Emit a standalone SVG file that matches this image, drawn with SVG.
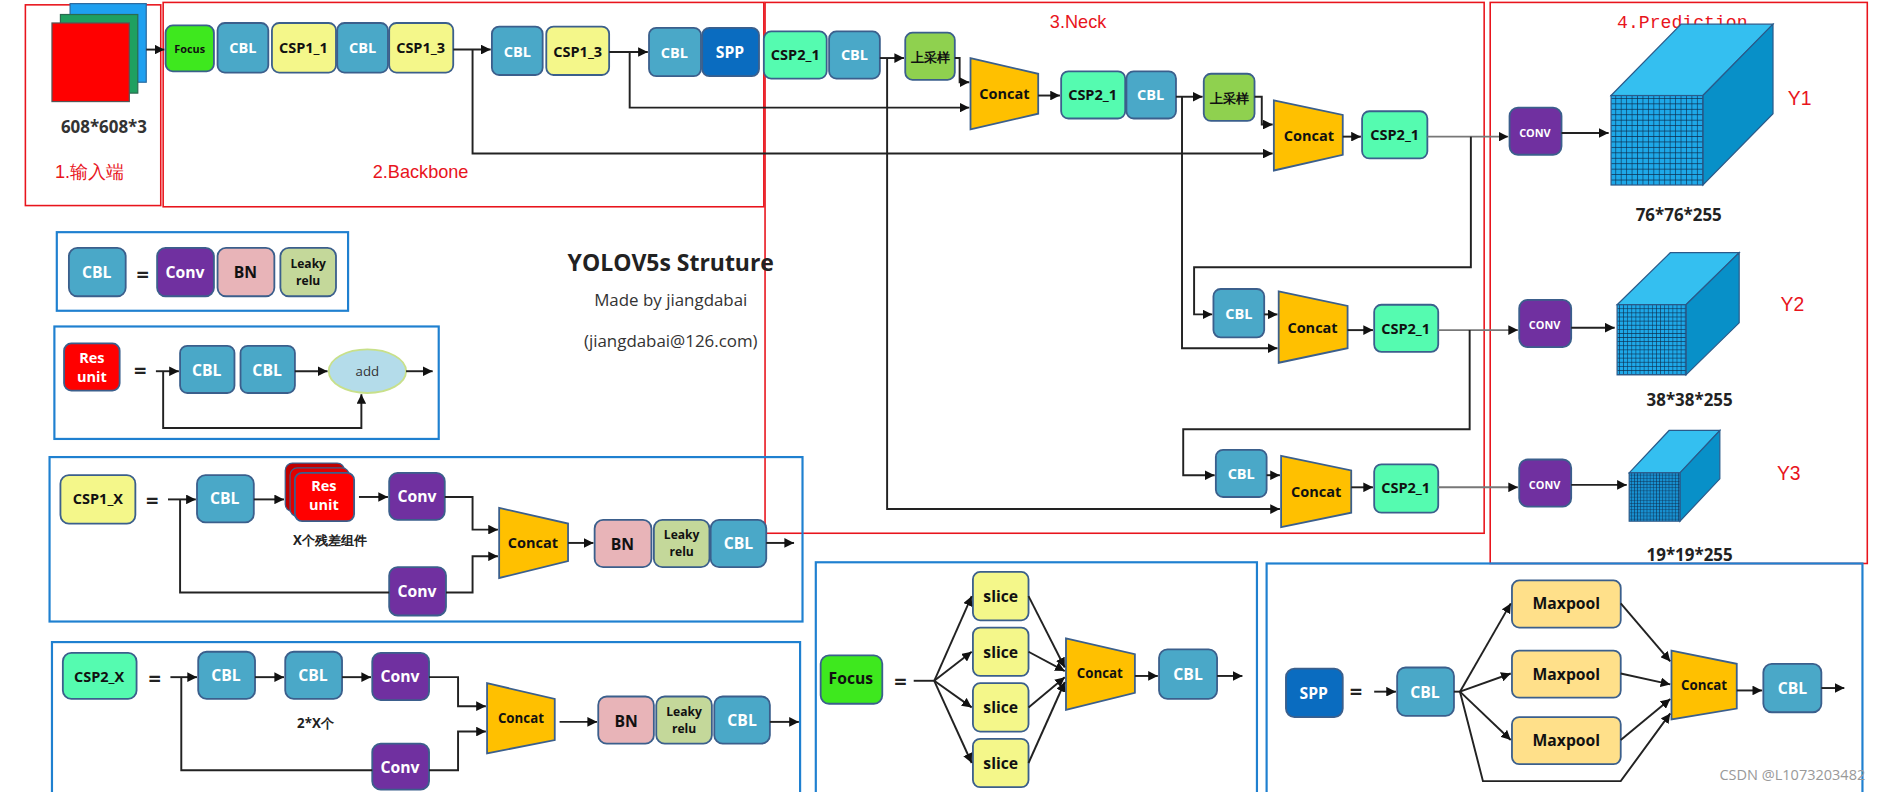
<svg xmlns="http://www.w3.org/2000/svg" width="1895" height="792" viewBox="0 0 1895 792">
<style>
.n{stroke:#3b5f8c;stroke-width:1.5}
.cbl{fill:#4aa8c8}.csp1{fill:#f4f78a}.csp2{fill:#55fbb0}.conv{fill:#7030a0}.bn{fill:#e8b4b8}.lr{fill:#c4d89a}.cc{fill:#ffc000}.up{fill:#8fd14f}.res{fill:#ff0000}.mp{fill:#ffe08a}.focus{fill:#3ee81e}.spp{fill:#0a6cc0}
text{font-family:"Open Sans","DejaVu Sans",sans-serif;font-weight:bold;text-anchor:middle}
.t{font-size:12px}.w{fill:#fff}.d{fill:#111}
.red{font-family:"Liberation Sans",sans-serif;font-weight:normal;fill:#e8141c;font-size:15px}
.rb{fill:none;stroke:#e8141c;stroke-width:1.3}
.bb{fill:none;stroke:#1f80d0;stroke-width:1.8}
.c path{fill:none;stroke:#222;stroke-width:1.6}
.c .g{stroke:#777}
.cube{stroke:#2a5a8a;stroke-width:1}
</style>
<defs>
<marker id="a" markerUnits="userSpaceOnUse" markerWidth="8" markerHeight="8" refX="8" refY="4" orient="auto"><path d="M0,0 L8,4 L0,8 z" fill="#111"/></marker>
<pattern id="p1" width="4.5" height="4.5" patternUnits="userSpaceOnUse"><rect width="4.5" height="4.5" fill="#1ea8e8"/><path d="M0,0H4.5M0,0V4.5" stroke="#0b2a4a" stroke-width="1"/></pattern>
<pattern id="p2" width="3.4" height="3.4" patternUnits="userSpaceOnUse"><rect width="3.4" height="3.4" fill="#1ea8e8"/><path d="M0,0H3.4M0,0V3.4" stroke="#0b2a4a" stroke-width="0.9"/></pattern>
<pattern id="p3" width="2.6" height="2.6" patternUnits="userSpaceOnUse"><rect width="2.6" height="2.6" fill="#1890d0"/><path d="M0,0H2.6M0,0V2.6" stroke="#0b2a4a" stroke-width="0.8"/></pattern>
</defs>
<rect width="1895" height="792" fill="#fff"/>
<g transform="scale(1.2086 1.2092)">
<g id="frames">
<rect class="rb" x="21" y="4" width="112" height="166"/>
<rect class="rb" x="135" y="2" width="497" height="169"/>
<rect class="rb" x="633" y="2" width="595" height="439"/>
<rect class="rb" x="1233" y="2" width="312" height="464"/>
<text class="red" x="74" y="147">1.输入端</text>
<text class="red" x="348" y="147">2.Backbone</text>
<text class="red" x="892" y="23">3.Neck</text>
<text class="red" x="1392" y="23" style="font-family:'Liberation Mono',monospace">4.Prediction</text>
<rect class="bb" x="47" y="192" width="241" height="65"/>
<rect class="bb" x="45" y="270" width="318" height="93"/>
<rect class="bb" x="41" y="378" width="623" height="136"/>
<rect class="bb" x="43" y="531" width="619" height="130"/>
<rect class="bb" x="675" y="465" width="365" height="196"/>
<rect class="bb" x="1048" y="466" width="493" height="195"/>
</g>
<g id="input">
<rect x="58" y="3" width="63" height="65" fill="#1ea0f0" stroke="#2a6aa0"/>
<rect x="50" y="12" width="64" height="65" fill="#1fa060" stroke="#2a6a50"/>
<rect x="43" y="19" width="64" height="65" fill="#ff0000" stroke="#555"/>
<text x="86" y="110" style="font-size:14px" fill="#333">608*608*3</text>
</g>
<g id="backbone">
<rect class="n focus" x="137" y="21" width="40" height="38" rx="6"/><text class="d" x="157" y="44" style="font-size:9px">Focus</text>
<rect class="n cbl" x="180" y="19" width="42" height="41" rx="6"/><text class="t w" x="201" y="44">CBL</text>
<rect class="n csp1" x="225" y="19" width="53" height="41" rx="6"/><text class="t d" x="251" y="44">CSP1_1</text>
<rect class="n cbl" x="279" y="19" width="42" height="41" rx="6"/><text class="t w" x="300" y="44">CBL</text>
<rect class="n csp1" x="322" y="19" width="53" height="41" rx="6"/><text class="t d" x="348" y="44">CSP1_3</text>
<rect class="n cbl" x="407" y="22" width="42" height="40" rx="6"/><text class="t w" x="428" y="47">CBL</text>
<rect class="n csp1" x="452" y="22" width="52" height="40" rx="6"/><text class="t d" x="478" y="47">CSP1_3</text>
<rect class="n cbl" x="537" y="23" width="43" height="40" rx="6"/><text class="t w" x="558" y="48">CBL</text>
<rect class="n spp" x="581" y="23" width="47" height="40" rx="6"/><text class="t w" x="604" y="48" style="font-size:13px">SPP</text>
</g>
<g id="neck">
<rect class="n csp2" x="632" y="26" width="52" height="39" rx="6"/><text class="t d" x="658" y="50">CSP2_1</text>
<rect class="n cbl" x="686" y="26" width="42" height="39" rx="6"/><text class="t w" x="707" y="50">CBL</text>
<rect class="n up" x="749" y="27" width="41" height="39" rx="6"/><text class="d" x="770" y="51" style="font-size:11px">上采样</text>
<polygon class="n cc" points="803,48 859,61 859,94 803,107"/><text class="t d" x="831" y="82">Concat</text>
<rect class="n csp2" x="878" y="59" width="53" height="39" rx="6"/><text class="t d" x="904" y="83">CSP2_1</text>
<rect class="n cbl" x="932" y="59" width="41" height="39" rx="6"/><text class="t w" x="952" y="83">CBL</text>
<rect class="n up" x="996" y="61" width="42" height="39" rx="6"/><text class="d" x="1017" y="85" style="font-size:11px">上采样</text>
<polygon class="n cc" points="1054,83 1111,95 1111,128 1054,141"/><text class="t d" x="1083" y="117">Concat</text>
<rect class="n csp2" x="1127" y="92" width="54" height="39" rx="6"/><text class="t d" x="1154" y="116">CSP2_1</text>
<rect class="n cbl" x="1004" y="239" width="42" height="40" rx="6"/><text class="t w" x="1025" y="264">CBL</text>
<polygon class="n cc" points="1058,241 1115,253 1115,288 1058,300"/><text class="t d" x="1086" y="275">Concat</text>
<rect class="n csp2" x="1137" y="252" width="53" height="39" rx="6"/><text class="t d" x="1163" y="276">CSP2_1</text>
<rect class="n cbl" x="1006" y="372" width="42" height="39" rx="6"/><text class="t w" x="1027" y="396">CBL</text>
<polygon class="n cc" points="1060,377 1118,389 1118,424 1060,436"/><text class="t d" x="1089" y="411">Concat</text>
<rect class="n csp2" x="1137" y="384" width="53" height="40" rx="6"/><text class="t d" x="1163" y="408">CSP2_1</text>
</g>
<g id="prediction">
<rect class="n conv" x="1249" y="89" width="43" height="39" rx="7"/><text class="w" x="1270" y="113" style="font-size:9px">CONV</text>
<rect class="n conv" x="1257" y="248" width="43" height="39" rx="7"/><text class="w" x="1278" y="272" style="font-size:9px">CONV</text>
<rect class="n conv" x="1257" y="380" width="43" height="39" rx="7"/><text class="w" x="1278" y="404" style="font-size:9px">CONV</text>
<polygon class="cube" fill="#34bff0" points="1333,79 1391,20 1467,20 1409,79"/>
<polygon class="cube" fill="#0890c8" points="1409,79 1467,20 1467,94 1409,153"/>
<rect class="cube" x="1333" y="79" width="76" height="74" fill="url(#p1)"/>
<polygon class="cube" fill="#34bff0" points="1338,252 1382,209 1439,209 1395,252"/>
<polygon class="cube" fill="#0890c8" points="1395,252 1439,209 1439,267 1395,310"/>
<rect class="cube" x="1338" y="252" width="57" height="58" fill="url(#p2)"/>
<polygon class="cube" fill="#34bff0" points="1348,391 1381,356 1423,356 1390,391"/>
<polygon class="cube" fill="#0890c8" points="1390,391 1423,356 1423,396 1390,431"/>
<rect class="cube" x="1348" y="391" width="42" height="40" fill="url(#p3)"/>
<text x="1389" y="183" style="font-size:14px" fill="#222">76*76*255</text>
<text x="1398" y="336" style="font-size:14px" fill="#222">38*38*255</text>
<text x="1398" y="464" style="font-size:14px" fill="#222">19*19*255</text>
<text class="red" x="1489" y="87" style="font-size:16px">Y1</text>
<text class="red" x="1483" y="257" style="font-size:16px">Y2</text>
<text class="red" x="1480" y="397" style="font-size:16px">Y3</text>
</g>
<g id="title">
<text x="555" y="224" style="font-size:19px" fill="#222">YOLOV5s Struture</text>
<text x="555" y="253" style="font-size:14px;font-weight:normal" fill="#333">Made by jiangdabai</text>
<text x="555" y="287" style="font-size:14px;font-weight:normal" fill="#333">(jiangdabai@126.com)</text>
</g>
<g id="legend-cbl">
<rect class="n cbl" x="57" y="205" width="47" height="40" rx="7"/><text class="t w" x="80" y="230" style="font-size:13px">CBL</text>
<text x="118" y="233" style="font-size:18px" fill="#222">=</text>
<rect class="n conv" x="130" y="205" width="47" height="40" rx="7"/><text class="t w" x="153" y="230" style="font-size:13px">Conv</text>
<rect class="n bn" x="180" y="205" width="47" height="40" rx="7"/><text class="t d" x="203" y="230" style="font-size:13px">BN</text>
<rect class="n lr" x="232" y="205" width="46" height="40" rx="7"/><text class="d" x="255" y="222" style="font-size:10px">Leaky</text><text class="d" x="255" y="236" style="font-size:10px">relu</text>
</g>
<g id="legend-res">
<rect class="n res" x="53" y="284" width="46" height="39" rx="6"/><text class="w" x="76" y="300" style="font-size:12px">Res</text><text class="w" x="76" y="316" style="font-size:12px">unit</text>
<text x="116" y="313" style="font-size:18px" fill="#222">=</text>
<rect class="n cbl" x="149" y="286" width="45" height="39" rx="6"/><text class="t w" x="171" y="311" style="font-size:13px">CBL</text>
<rect class="n cbl" x="199" y="286" width="45" height="39" rx="6"/><text class="t w" x="221" y="311" style="font-size:13px">CBL</text>
<ellipse cx="304" cy="307" rx="32" ry="18" fill="#b4dcea" stroke="#c8e08a" stroke-width="1.5"/><text x="304" y="311" style="font-size:11px;font-weight:normal" fill="#333">add</text>
</g>
<g id="legend-csp1">
<rect class="n csp1" x="50" y="393" width="62" height="40" rx="7"/><text class="t d" x="81" y="417">CSP1_X</text>
<text x="126" y="420" style="font-size:18px" fill="#222">=</text>
<rect class="n cbl" x="163" y="393" width="47" height="39" rx="7"/><text class="t w" x="186" y="417" style="font-size:13px">CBL</text>
<rect x="236" y="383" width="49" height="40" rx="6" fill="#c00000" stroke="#3b5f8c"/>
<rect x="240" y="387" width="49" height="40" rx="6" fill="#e00000" stroke="#3b5f8c"/>
<rect class="n res" x="244" y="391" width="49" height="40" rx="6"/><text class="w" x="268" y="406" style="font-size:12px">Res</text><text class="w" x="268" y="422" style="font-size:12px">unit</text>
<text x="273" y="451" style="font-size:11px" fill="#222">X个残差组件</text>
<rect class="n conv" x="322" y="391" width="46" height="39" rx="7"/><text class="t w" x="345" y="415" style="font-size:13px">Conv</text>
<rect class="n conv" x="322" y="469" width="47" height="40" rx="7"/><text class="t w" x="345" y="494" style="font-size:13px">Conv</text>
<polygon class="n cc" points="413,420 470,433 470,464 413,478"/><text class="t d" x="441" y="453">Concat</text>
<rect class="n bn" x="492" y="430" width="47" height="39" rx="7"/><text class="t d" x="515" y="455" style="font-size:13px">BN</text>
<rect class="n lr" x="541" y="430" width="46" height="39" rx="7"/><text class="d" x="564" y="446" style="font-size:10px">Leaky</text><text class="d" x="564" y="460" style="font-size:10px">relu</text>
<rect class="n cbl" x="588" y="430" width="46" height="39" rx="7"/><text class="t w" x="611" y="454" style="font-size:13px">CBL</text>
</g>
<g id="legend-csp2">
<rect class="n csp2" x="52" y="540" width="61" height="38" rx="7"/><text class="t d" x="82" y="564">CSP2_X</text>
<text x="128" y="567" style="font-size:18px" fill="#222">=</text>
<rect class="n cbl" x="164" y="539" width="47" height="39" rx="7"/><text class="t w" x="187" y="563" style="font-size:13px">CBL</text>
<rect class="n cbl" x="236" y="539" width="47" height="39" rx="7"/><text class="t w" x="259" y="563" style="font-size:13px">CBL</text>
<rect class="n conv" x="308" y="540" width="47" height="39" rx="7"/><text class="t w" x="331" y="564" style="font-size:13px">Conv</text>
<rect class="n conv" x="308" y="615" width="47" height="38" rx="7"/><text class="t w" x="331" y="639" style="font-size:13px">Conv</text>
<text x="261" y="602" style="font-size:11px" fill="#222">2*X个</text>
<polygon class="n cc" points="403,565 459,578 459,612 403,623"/><text class="t d" x="431" y="598" style="font-size:11px">Concat</text>
<rect class="n bn" x="495" y="576" width="46" height="39" rx="7"/><text class="t d" x="518" y="601" style="font-size:13px">BN</text>
<rect class="n lr" x="543" y="576" width="46" height="39" rx="7"/><text class="d" x="566" y="592" style="font-size:10px">Leaky</text><text class="d" x="566" y="606" style="font-size:10px">relu</text>
<rect class="n cbl" x="591" y="576" width="46" height="39" rx="7"/><text class="t w" x="614" y="600" style="font-size:13px">CBL</text>
</g>
<g id="legend-focus">
<rect class="n focus" x="679" y="542" width="51" height="40" rx="7"/><text class="t d" x="704" y="566" style="font-size:13px">Focus</text>
<text x="745" y="570" style="font-size:18px" fill="#222">=</text>
<rect class="n csp1" x="805" y="473" width="46" height="40" rx="6"/><text class="t d" x="828" y="498" style="font-size:13px">slice</text>
<rect class="n csp1" x="805" y="519" width="46" height="40" rx="6"/><text class="t d" x="828" y="544" style="font-size:13px">slice</text>
<rect class="n csp1" x="805" y="565" width="46" height="40" rx="6"/><text class="t d" x="828" y="590" style="font-size:13px">slice</text>
<rect class="n csp1" x="805" y="611" width="46" height="40" rx="6"/><text class="t d" x="828" y="636" style="font-size:13px">slice</text>
<polygon class="n cc" points="882,528 939,541 939,573 882,587"/><text class="t d" x="910" y="561" style="font-size:11px">Concat</text>
<rect class="n cbl" x="959" y="537" width="48" height="41" rx="7"/><text class="t w" x="983" y="562" style="font-size:13px">CBL</text>
</g>
<g id="legend-spp">
<rect class="n spp" x="1064" y="553" width="47" height="40" rx="7"/><text class="t w" x="1087" y="578" style="font-size:13px">SPP</text>
<text x="1122" y="578" style="font-size:18px" fill="#222">=</text>
<rect class="n cbl" x="1156" y="552" width="47" height="40" rx="7"/><text class="t w" x="1179" y="577" style="font-size:13px">CBL</text>
<rect class="n mp" x="1251" y="480" width="90" height="39" rx="6"/><text class="t d" x="1296" y="504" style="font-size:13px">Maxpool</text>
<rect class="n mp" x="1251" y="538" width="90" height="39" rx="6"/><text class="t d" x="1296" y="562" style="font-size:13px">Maxpool</text>
<rect class="n mp" x="1251" y="593" width="90" height="39" rx="6"/><text class="t d" x="1296" y="617" style="font-size:13px">Maxpool</text>
<polygon class="n cc" points="1383,538 1437,549 1437,586 1383,595"/><text class="t d" x="1410" y="571" style="font-size:11px">Concat</text>
<rect class="n cbl" x="1459" y="549" width="48" height="40" rx="7"/><text class="t w" x="1483" y="574" style="font-size:13px">CBL</text>
<text x="1483" y="645" style="font-size:12px;font-weight:normal" fill="#999">CSDN @L1073203482</text>
</g>
<g id="connectors" class="c">
<path d="M121,41H136" marker-end="url(#a)"/>
<path d="M375,41H406" marker-end="url(#a)"/>
<path d="M391,41V127H1053" marker-end="url(#a)"/>
<path d="M504,43H536" marker-end="url(#a)"/>
<path d="M521,43V89H802" marker-end="url(#a)"/>
<path d="M728,48H748" marker-end="url(#a)"/>
<path d="M734,48V421H1059" marker-end="url(#a)"/>
<path d="M790,48H794V68H802" marker-end="url(#a)"/>
<path d="M859,79H877" marker-end="url(#a)"/>
<path d="M973,80H995" marker-end="url(#a)"/>
<path d="M978,80V288H1057" marker-end="url(#a)"/>
<path d="M1038,80H1044V103H1053" marker-end="url(#a)"/>
<path d="M1111,113H1126" marker-end="url(#a)"/>
<path class="g" d="M1181,113H1248" marker-end="url(#a)"/>
<path d="M1217,113V221H988V260H1003" marker-end="url(#a)"/>
<path d="M1046,260H1057" marker-end="url(#a)"/>
<path d="M1115,273H1136" marker-end="url(#a)"/>
<path class="g" d="M1190,273H1256" marker-end="url(#a)"/>
<path d="M1216,273V355H979V393H1005" marker-end="url(#a)"/>
<path d="M1048,393H1059" marker-end="url(#a)"/>
<path d="M1118,403H1136" marker-end="url(#a)"/>
<path class="g" d="M1190,403H1256" marker-end="url(#a)"/>
<path d="M1292,110H1331" marker-end="url(#a)"/>
<path d="M1300,271H1336" marker-end="url(#a)"/>
<path d="M1300,401H1346" marker-end="url(#a)"/>
<path d="M129,307H148" marker-end="url(#a)"/>
<path d="M135,307V354H299V326" marker-end="url(#a)"/>
<path d="M244,307H271" marker-end="url(#a)"/>
<path d="M336,307H358" marker-end="url(#a)"/>
<path d="M139,413H162" marker-end="url(#a)"/>
<path d="M149,413V490H322"/>
<path d="M210,413H235" marker-end="url(#a)"/>
<path d="M297,411H321" marker-end="url(#a)"/>
<path d="M368,411H391V438H412" marker-end="url(#a)"/>
<path d="M369,490H391V460H412" marker-end="url(#a)"/>
<path d="M470,449H491" marker-end="url(#a)"/>
<path d="M634,449H657" marker-end="url(#a)"/>
<path d="M141,560H163" marker-end="url(#a)"/>
<path d="M150,560V637H308"/>
<path d="M211,560H235" marker-end="url(#a)"/>
<path d="M283,560H307" marker-end="url(#a)"/>
<path d="M355,560H379V584H402" marker-end="url(#a)"/>
<path d="M355,637H379V605H402" marker-end="url(#a)"/>
<path d="M463,597H494" marker-end="url(#a)"/>
<path d="M637,597H661" marker-end="url(#a)"/>
<path d="M756,563H773"/>
<path d="M773,563L804,493" marker-end="url(#a)"/>
<path d="M773,563L804,539" marker-end="url(#a)"/>
<path d="M773,563L804,585" marker-end="url(#a)"/>
<path d="M773,563L804,631" marker-end="url(#a)"/>
<path d="M851,493L881,552" marker-end="url(#a)"/>
<path d="M851,539L881,555" marker-end="url(#a)"/>
<path d="M851,585L881,560" marker-end="url(#a)"/>
<path d="M851,631L881,564" marker-end="url(#a)"/>
<path d="M939,559H958" marker-end="url(#a)"/>
<path d="M1007,559H1028" marker-end="url(#a)"/>
<path d="M1137,572H1155" marker-end="url(#a)"/>
<path d="M1203,572H1208"/>
<path d="M1208,572L1250,499" marker-end="url(#a)"/>
<path d="M1208,572L1250,557" marker-end="url(#a)"/>
<path d="M1208,572L1250,612" marker-end="url(#a)"/>
<path d="M1208,572L1227,646H1341L1382,590" marker-end="url(#a)"/>
<path d="M1341,499L1382,547" marker-end="url(#a)"/>
<path d="M1341,557L1382,566" marker-end="url(#a)"/>
<path d="M1341,612L1382,578" marker-end="url(#a)"/>
<path d="M1437,571H1458" marker-end="url(#a)"/>
<path d="M1507,569H1526" marker-end="url(#a)"/>
</g>
</g>
</svg>
